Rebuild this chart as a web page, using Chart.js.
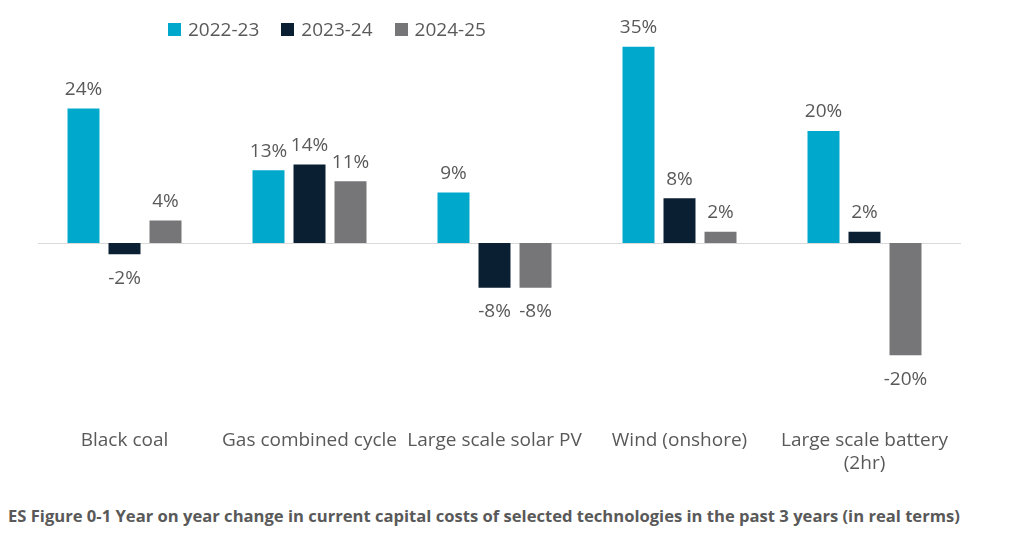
<!DOCTYPE html>
<html>
<head>
<meta charset="utf-8">
<script src="https://cdn.jsdelivr.net/npm/chart.js@4"></script>
<style>
    body { margin: 0; background: #ffffff; font-family: "Open Sans", sans-serif; }
    #wrap { position: absolute; left: 0; top: 0; width: 1027px; height: 482px; }
    #legend { position: absolute; left: 168px; top: 16px; display: flex; color: #595959; font-size: 19px; line-height: 26px; }
    .item { display: flex; align-items: center; margin-right: 22px; }
    .box { width: 13px; height: 13px; margin-right: 7px; }
    #caption { position: absolute; left: 8px; top: 504px; color: #595959; font-weight: bold; font-size: 16.6px; white-space: nowrap; }
</style>
</head>
<body>
<div id="wrap"><canvas id="chart"></canvas></div>
<div id="legend"></div>
<div id="caption">ES Figure 0-1 Year on year change in current capital costs of selected technologies in the past 3 years (in real terms)</div>
<script>
const categories = ['Black coal', 'Gas combined cycle', 'Large scale solar PV', 'Wind (onshore)', ['Large scale battery', '(2hr)']];
const seriesNames = ['2022-23', '2023-24', '2024-25'];
const values2223 = [24, 13, 9, 35, 20];
const values2324 = [-2, 14, -8, 8, 2];
const values2425 = [4, 11, -8, 2, -20];
const colors = ['#00a9cc', '#0b1f33', '#767679'];

const legend = document.getElementById('legend');
seriesNames.forEach((name, i) => {
    const item = document.createElement('div');
    item.className = 'item';
    item.innerHTML = '<span class="box" style="background:' + colors[i] + '"></span>' + name;
    legend.appendChild(item);
});

// zero line + value labels
const extras = {
    id: 'extras',
    beforeDatasetsDraw(chart) {
        const ctx = chart.ctx;
        const y0 = chart.scales.y.getPixelForValue(0);
        ctx.save();
        ctx.strokeStyle = '#d9d9d9';
        ctx.lineWidth = 1;
        ctx.beginPath();
        ctx.moveTo(chart.chartArea.left + 6, Math.round(y0) + 0.5);
        ctx.lineTo(chart.chartArea.right + 4, Math.round(y0) + 0.5);
        ctx.stroke();
        ctx.restore();
    },
    afterDatasetsDraw(chart) {
        const ctx = chart.ctx;
        ctx.save();
        ctx.font = '19px "Open Sans"';
        ctx.fillStyle = '#595959';
        ctx.textAlign = 'center';
        ctx.textBaseline = 'middle';
        chart.data.datasets.forEach((ds, i) => {
            chart.getDatasetMeta(i).data.forEach((bar, j) => {
                const v = ds.data[j];
                const y = v >= 0 ? bar.y - 19 : bar.y + 24;
                ctx.fillText(v + '%', bar.x, y);
            });
        });
        ctx.restore();
    }
};

const data = {
    labels: categories,
    datasets: [values2223, values2324, values2425].map((vals, i) => ({
        label: seriesNames[i],
        data: vals,
        backgroundColor: colors[i],
        categoryPercentage: 0.665,
        barPercentage: 0.78
    }))
};

new Chart(document.getElementById('chart'), {
    type: 'bar',
    data: data,
    plugins: [extras],
    options: {
        responsive: true,
        maintainAspectRatio: false,
        animation: false,
        layout: { padding: { left: 32, right: 70, top: 30, bottom: 0 } },
        scales: {
            x: {
                grid: { display: false, drawTicks: false },
                border: { display: false },
                ticks: { color: '#595959', font: { family: 'Open Sans', size: 19 }, padding: 7, maxRotation: 0 }
            },
            y: {
                display: false,
                min: -32,
                max: 38
            }
        },
        plugins: {
            legend: { display: false },
            tooltip: { enabled: false }
        }
    }
});
</script>
</body>
</html>
